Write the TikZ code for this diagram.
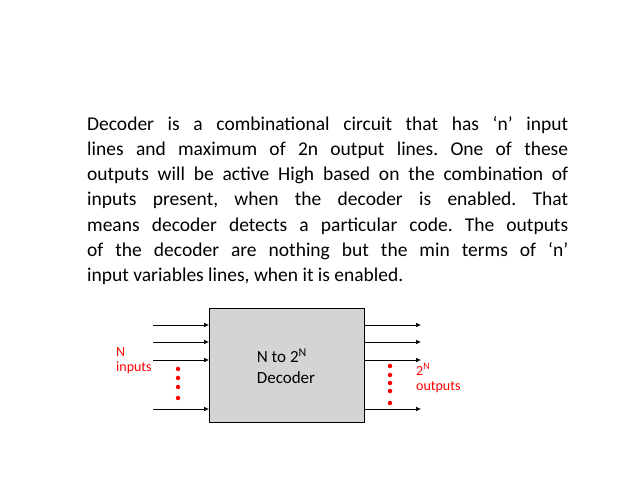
\documentclass[tikz,border=0pt]{standalone}
\usepackage{fontspec}
\setmainfont{Carlito}
\usetikzlibrary{arrows.meta}
\begin{document}
\begin{tikzpicture}[x=1pt,y=-1pt,
  arr/.style={-{Latex[length=5pt,width=4.5pt]},line width=0.6pt},
  rdot/.style={circle,fill=red,inner sep=0pt,minimum size=4.5pt},
  lab/.style={text=red,font=\fontsize{14}{15}\selectfont,align=left,inner sep=0pt}]
\useasboundingbox (0,0) rectangle (638,478);
\node[anchor=north west,inner sep=0pt,text width=481pt,align=justify,font={\fontsize{19.5}{25.2}\selectfont\frenchspacing\hyphenpenalty=10000\relax}] (txt) at (87,116)
{Decoder is a combinational circuit that has ‘n’ input\linebreak lines and maximum of 2n output lines. One of these\linebreak outputs will be active High based on the combination of\linebreak inputs present, when the decoder is enabled. That\linebreak means decoder detects a particular code. The outputs\linebreak of the decoder are nothing but the min terms of ‘n’\linebreak input variables lines, when it is enabled.};
\node[draw,fill=black!17,minimum width=155pt,minimum height=114pt,anchor=north west,line width=0.8pt] (box) at (209,308) {};
\node[font=\fontsize{17}{21}\selectfont,align=left] (lbl) at (286,366) {N to 2\textsuperscript{N}\\Decoder};
\foreach \y/\n in {325/a,342/b,360/c,409/d}{
  \coordinate (i\n) at (153,\y);
  \coordinate (o\n) at (421,\y);
  \draw[arr] (i\n) -- (box.west |- i\n);
  \draw[arr] (box.east |- o\n) -- (o\n);
}
\foreach \y in {369,378,387,398} \node[rdot] at (178,\y) {};
\foreach \y in {366,375,383,391,403} \node[rdot] at (390,\y) {};
\node[lab,anchor=west] (nin) at (116,361) {N\\inputs};
\node[lab,anchor=west] (nout) at (416,378) {2\textsuperscript{N}\\outputs};
\end{tikzpicture}
\end{document}
